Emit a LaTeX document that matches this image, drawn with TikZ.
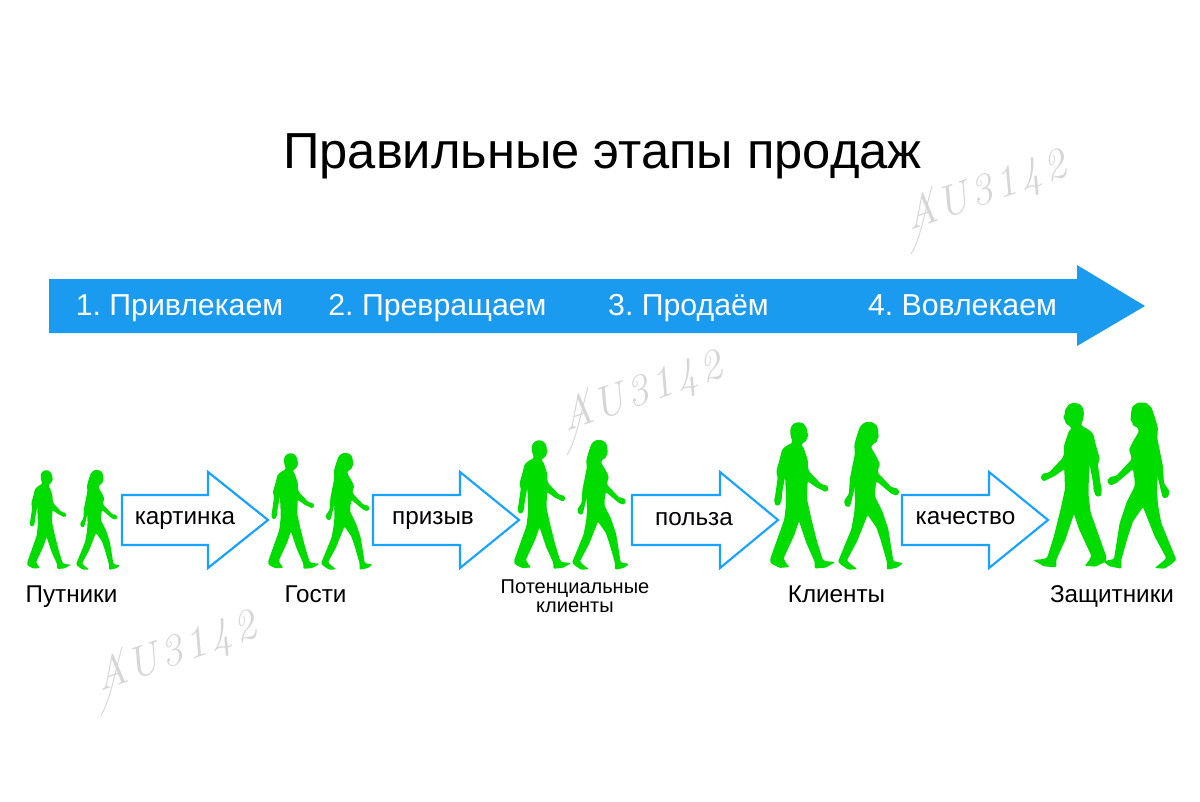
\documentclass[tikz,border=0pt]{standalone}
\usepackage{fontspec}
\setmainfont{Liberation Sans}
\newfontfamily\wmfont[LetterSpace=8]{Latin Modern Roman}
\frenchspacing
\definecolor{bluebar}{HTML}{1A9BF0}
\definecolor{blueline}{HTML}{17A3FF}
\definecolor{walker}{HTML}{00DC00}
\definecolor{wmgray}{HTML}{D6D6D6}
\tikzset{
  title/.style={font=\fontsize{38}{44}\selectfont,inner sep=0pt,anchor=base},
  stage/.style={font=\fontsize{22.7}{24}\selectfont,text=white,inner sep=0pt,anchor=base},
  tag/.style={font=\fontsize{18.2}{20}\selectfont,inner sep=0pt,anchor=base},
  smalltag/.style={font=\fontsize{15}{15}\selectfont,inner sep=0pt,anchor=base},
  flowarrow/.style={draw=blueline,line width=1.6pt,fill=white,miter limit=10},
  wm/.style={font=\wmfont\itshape\fontsize{33}{40}\selectfont,text=wmgray,rotate=19,inner sep=0pt},
  wmtail/.style={draw=wmgray,line width=0.7pt},
  figfill/.style={fill=walker,rounded corners=0.9pt}
}
\newcommand{\manpath}{(133,62)--(145,45)--(160,40)--(178,45)--(188,58)--(190,75)--(187,92)--(182,105)--(183,110)--(205,122)--(218,135)--(225,165)--(237,207)--(232,228)--(240,285)--(244,305)--(240,322)--(226,322)--(218,300)--(218,285)--(207,225)--(204,290)--(204,320)--(210,370)--(235,440)--(258,505)--(255,518)--(225,533)--(192,530)--(205,515)--(212,500)--(175,420)--(160,375)--(135,450)--(107,512)--(107,535)--(70,532)--(37,513)--(70,510)--(80,505)--(100,440)--(120,360)--(133,300)--(131,240)--(100,262)--(82,270)--(70,277)--(60,268)--(65,254)--(85,250)--(125,208)--(130,195)--(130,170)--(145,125)--(152,120)--(150,113)--(135,103)--(133,92)--(127,85)--(133,75)--cycle}
\newcommand{\womanpath}{(333,75)--(338,50)--(355,38)--(378,38)--(395,52)--(405,80)--(415,115)--(413,145)--(418,170)--(430,230)--(433,280)--(450,305)--(445,323)--(430,325)--(423,300)--(420,285)--(400,210)--(408,240)--(414,270)--(412,300)--(415,345)--(425,400)--(470,510)--(460,520)--(435,537)--(405,535)--(430,515)--(440,505)--(405,440)--(370,352)--(340,395)--(325,440)--(305,510)--(305,537)--(270,530)--(250,515)--(283,508)--(300,400)--(320,340)--(345,290)--(345,270)--(340,238)--(290,280)--(272,287)--(262,275)--(270,262)--(290,258)--(335,210)--(335,200)--(328,180)--(340,155)--(358,125)--(353,112)--(340,108)--(338,97)--(331,88)--(335,80)--cycle}
% left x, bottom y, scale: figures walking left (as traced)
\newcommand{\manleft}[3]{\begin{scope}[shift={(#1,{#2-500*#3})},scale=#3,shift={(-37,-40)}]\path[figfill] \manpath;\end{scope}}
\newcommand{\womanleft}[3]{\begin{scope}[shift={(#1,{#2-500*#3})},scale=#3,shift={(-250,-38)}]\path[figfill] \womanpath;\end{scope}}
% left x, bottom y, scale: mirrored, walking right
\newcommand{\manright}[3]{\begin{scope}[shift={({#1+221*#3},{#2-500*#3})},xscale=-#3,yscale=#3,shift={(-37,-40)}]\path[figfill] \manpath;\end{scope}}
\newcommand{\womanright}[3]{\begin{scope}[shift={({#1+220*#3},{#2-500*#3})},xscale=-#3,yscale=#3,shift={(-250,-38)}]\path[figfill] \womanpath;\end{scope}}
\newcommand{\flowarrow}[2]{% left x, base x of head
  \path[flowarrow] (#1,495) -- (#2,495) -- (#2,472) -- (#1+146,520) -- (#2,568) -- (#2,545) -- (#1,545) -- cycle;
}
\begin{document}
\begin{tikzpicture}[x=0.75pt,y=-0.75pt]
\useasboundingbox (0,0) rectangle (1200,801);
\fill[white] (0,0) rectangle (1200,801);
% watermarks
\node[wm] (wma) at (986,192) {AU3142};
\draw[wmtail] (932,186) .. controls (924,215) and (920,240) .. (911,254);
\node[wm] (wmb) at (642,393) {AU3142};
\draw[wmtail] (588,387) .. controls (580,416) and (576,441) .. (567,455);
\node[wm] (wmc) at (176,653) {AU3142};
\draw[wmtail] (122,647) .. controls (114,676) and (110,701) .. (101,715);
% title
\node[title] (ttl) at (602.5,168) {Правильные этапы продаж};
% main bar
\fill[bluebar] (49,279) -- (1077,279) -- (1077,265) -- (1145,306) -- (1077,346) -- (1077,333) -- (49,333) -- cycle;
\node[stage] (s1) at (179.5,315) {1. Привлекаем};
\node[stage] (s2) at (437.5,315) {2. Превращаем};
\node[stage] (s3) at (688.5,315) {3. Продаём};
\node[stage] (s4) at (962.5,315) {4. Вовлекаем};
% walkers
\manright{27}{570}{0.2}\womanright{76}{570}{0.2}
\manright{268}{570}{0.234}\womanright{321}{570}{0.234}
\manright{514}{570}{0.26}\womanright{572}{570}{0.26}
\manright{770}{570}{0.296}\womanright{838}{570}{0.296}
\manleft{1033}{569}{0.333}\womanleft{1103}{569}{0.333}
% flow arrows
\flowarrow{122}{208}
\flowarrow{373}{460}
\flowarrow{632}{720}
\flowarrow{902}{989}
\node[tag] (f1) at (185,524) {картинка};
\node[tag] (f2) at (433,524) {призыв};
\node[tag] (f3) at (694,525) {польза};
\node[tag] (f4) at (965.5,524) {качество};
% labels
\node[tag] (l1) at (71.5,602) {Путники};
\node[tag] (l2) at (315.5,602) {Гости};
\node[smalltag] (l3a) at (575,593) {Потенциальные};
\node[smalltag] (l3b) at (575,612) {клиенты};
\node[tag] (l4) at (836.5,602) {Клиенты};
\node[tag] (l5) at (1112,602) {Защитники};
\end{tikzpicture}
\end{document}
